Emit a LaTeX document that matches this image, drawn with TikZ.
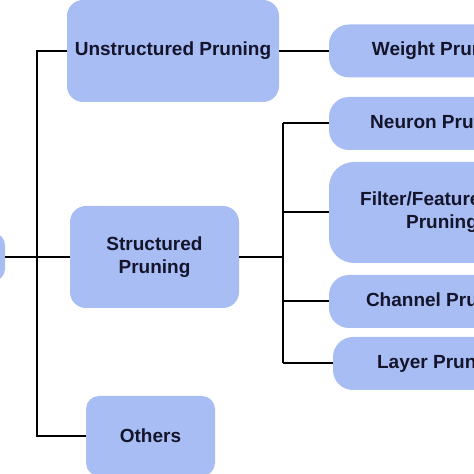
\documentclass[tikz,border=0pt]{standalone}
\usepackage{fontspec}
\setmainfont{Liberation Sans}
\usepackage{tikz}
\usetikzlibrary{positioning,calc}
\definecolor{boxblue}{HTML}{A9BDF5}
\definecolor{inkdark}{HTML}{14142A}

\begin{document}
\begin{tikzpicture}[x=1pt,y=1pt,
    box/.style={fill=boxblue, text=inkdark, align=center, inner sep=0pt,
      rounded corners=16pt, font=\fontsize{19}{23}\selectfont\bfseries},
    leaf/.style={box, minimum width=226pt, minimum height=53pt, rounded corners=20pt},
    link/.style={line width=2pt, black}]
  \useasboundingbox (0,0) rectangle (474,474);
  \clip (0,0) rectangle (474,474);

  % left column
  \node[box, minimum width=65pt, minimum height=48pt, rounded corners=12pt] (root) at (-27.5,217) {};
  \node[box, minimum width=212pt, minimum height=102pt] (unstr) at (173,423) {Unstructured Pruning};
  \node[box, minimum width=169pt, minimum height=102pt] (struct) at (154.5,217) {Structured\\Pruning};
  \node[box, minimum width=129pt, minimum height=80pt, rounded corners=13pt] (others) at (150.5,38) {Others};

  % right column
  \node[leaf] (weight) at (442,423) {Weight Pruning};
  \node[leaf] (neuron) at (442,350.5) {Neuron Pruning};
  \node[leaf, minimum height=101pt, rounded corners=25pt] (filter) at (442,261.5) {Filter/Feature Map\\Pruning};
  \node[leaf] (channel) at (442,172.5) {Channel Pruning};
  \node[leaf, minimum width=216pt] (layer) at (441,110.5) {Layer Pruning};

  \coordinate (ltrunk) at (37,0);
  \coordinate (rtrunk) at (283,0);

  % connectors
  \draw[link] (root.east) -- (struct.west);
  \draw[link] (unstr.west) -- (unstr.west -| ltrunk) -- (others.west -| ltrunk) -- (others.west);
  \draw[link] (unstr.east) -- (weight.west);
  \draw[link] (struct.east) -- (struct.east -| rtrunk);
  \draw[link] (neuron.west -| rtrunk) -- (layer.west -| rtrunk);
  \foreach \n in {neuron,filter,channel,layer}
    \draw[link] (\n.west -| rtrunk) -- (\n.west);

\end{tikzpicture}
\end{document}
